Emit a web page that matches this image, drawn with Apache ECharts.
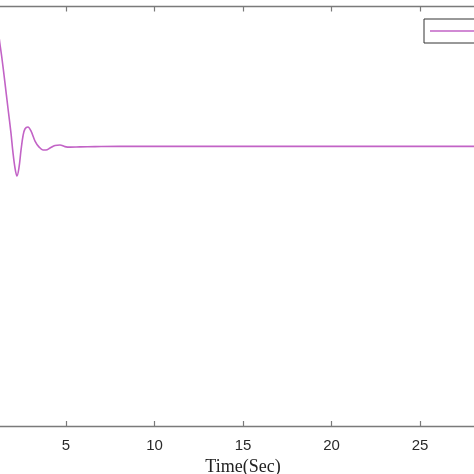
<!DOCTYPE html>
<html>
<head>
<meta charset="utf-8">
<script src="https://cdn.jsdelivr.net/npm/echarts@6/dist/echarts.min.js"></script>
<style>html,body{margin:0;padding:0;background:#fff;}#c{width:474px;height:474px;}</style>
</head>
<body>
<div id="c"></div>
<script>
const seriesName = 'Output';
const xLabel = 'Time(Sec)';
const xMin = 0, xMax = 30, xStep = 5;
const yMin = 0, yMax = 1.5;
const time = [0.70, 0.93, 1.10, 1.27, 1.38, 1.55, 1.72, 1.89, 2.00, 2.12, 2.23, 2.34, 2.46, 2.57, 2.68, 2.85, 3.02, 3.25, 3.47, 3.70, 3.87, 4.10, 4.38, 4.66, 4.94, 5.23, 5.79, 6.64, 8, 10, 15, 20, 25, 30];
const response = [1.452, 1.470, 1.440, 1.365, 1.315, 1.228, 1.137, 1.048, 0.980, 0.922, 0.894, 0.922, 0.987, 1.037, 1.062, 1.069, 1.055, 1.019, 0.998, 0.987, 0.987, 0.994, 1.003, 1.005, 0.999, 0.997, 0.998, 0.999, 1.0, 1.0, 1.0, 1.0, 1.0, 1.0];

const chart = echarts.init(document.getElementById('c'), null, {renderer: 'canvas'});
const axisGray = '#7a7a7a';
const lineColor = '#c263c6';
chart.setOption({
  backgroundColor: '#ffffff',
  animation: false,
  grid: {left: -22.5, right: -34.5, top: 6.5, bottom: 48, containLabel: false, outerBoundsMode: 'none'},
  legend: {
    show: true, left: 424, top: 19, orient: 'vertical',
    padding: [5, 5, 5, 6], itemWidth: 46, itemHeight: 1.6, itemGap: 0,
    borderColor: '#333', borderWidth: 1, backgroundColor: '#fff',
    textStyle: {fontFamily: 'Liberation Serif', fontSize: 14, color: '#000'},
    data: [{name: seriesName, icon: 'rect', itemStyle: {color: lineColor}}]
  },
  xAxis: [{
    type: 'value', min: xMin, max: xMax, interval: xStep, position: 'bottom',
    name: xLabel, nameLocation: 'middle', nameGap: 30,
    nameTextStyle: {fontFamily: 'Liberation Serif', fontSize: 18, color: '#222'},
    axisLine: {show: true, onZero: false, lineStyle: {color: axisGray, width: 1.3}},
    axisTick: {show: true, inside: true, length: 5, lineStyle: {color: axisGray, width: 1.2}},
    axisLabel: {show: true, margin: 12, fontFamily: 'Liberation Sans', fontSize: 15, color: '#2a2a2a'},
    splitLine: {show: false}
  }, {
    type: 'value', min: xMin, max: xMax, interval: xStep, position: 'top',
    axisLine: {show: true, onZero: false, lineStyle: {color: axisGray, width: 1.3}},
    axisTick: {show: true, inside: true, length: 5, lineStyle: {color: axisGray, width: 1.2}},
    axisLabel: {show: false}, splitLine: {show: false}
  }],
  yAxis: {type: 'value', min: yMin, max: yMax, show: false, splitLine: {show: false}},
  series: [{
    name: seriesName, type: 'line', xAxisIndex: 0,
    data: time.map((t, i) => [t, response[i]]),
    symbol: 'none', smooth: 0.35, clip: true,
    lineStyle: {color: lineColor, width: 1.6},
    itemStyle: {color: lineColor}
  }]
});
</script>
</body>
</html>
